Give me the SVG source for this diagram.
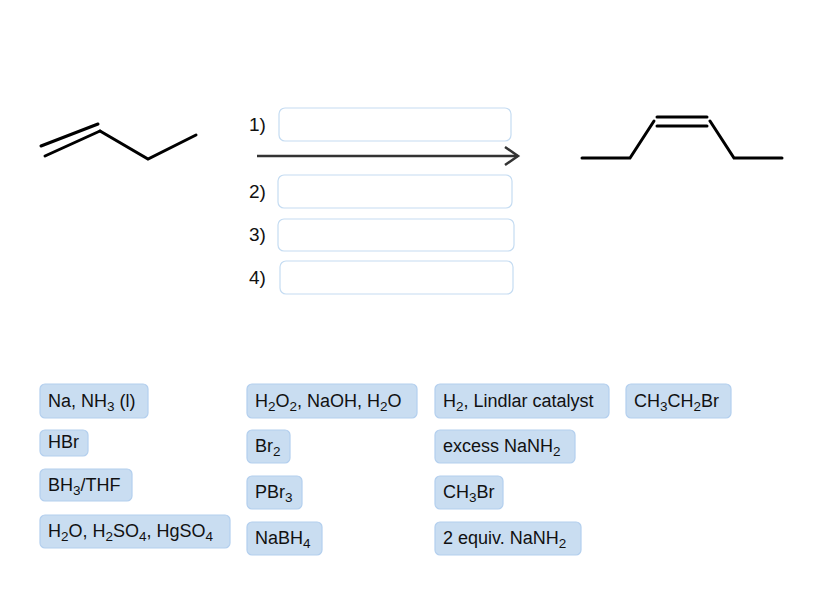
<svg xmlns="http://www.w3.org/2000/svg" width="826" height="598" viewBox="0 0 826 598">
<style>
.b{stroke:#000;stroke-width:3;fill:none;stroke-linecap:round}
.in{fill:#fff;stroke:#c5dcf2;stroke-width:1.2}
.r{fill:#c9ddf1;stroke:#b3cfee;stroke-width:1.2}
text{font-family:"Liberation Sans",Arial,sans-serif;font-size:18px;fill:#111}
.n{font-size:19px}
.s{font-size:13.5px}
</style>
<rect width="826" height="598" fill="#fff"/>
<g id="reactant">
<line class="b" x1="41" y1="146" x2="98" y2="124"/>
<line class="b" x1="45" y1="156" x2="100" y2="131"/>
<polyline class="b" points="100,131 148,159 196,135"/>
</g>
<g id="product">
<polyline class="b" points="582,158 630,158 654,121"/>
<line class="b" x1="657" y1="117" x2="707" y2="117"/>
<line class="b" x1="657" y1="126" x2="707" y2="126"/>
<polyline class="b" points="710,121 734,158 782,158"/>
</g>
<g id="connectors">
<line x1="257" y1="156" x2="518" y2="156" stroke="#333" stroke-width="2.5"/>
<polyline points="505,147 518,156 505,165" fill="none" stroke="#333" stroke-width="2.5"/>
</g>
<g id="slot1"><text class="n" x="249" y="131">1)</text><rect class="in" x="279" y="108" width="232" height="33" rx="6"/></g>
<g id="slot2"><text class="n" x="249" y="198">2)</text><rect class="in" x="278" y="175" width="234" height="33" rx="6"/></g>
<g id="slot3"><text class="n" x="249" y="241">3)</text><rect class="in" x="278" y="219" width="236" height="32" rx="6"/></g>
<g id="slot4"><text class="n" x="249" y="284">4)</text><rect class="in" x="280" y="261" width="233" height="33" rx="6"/></g>
<g id="r1"><rect class="r" x="40" y="384" width="108" height="34" rx="5"/><text x="48" y="407">Na, NH<tspan class="s" dy="4">3</tspan><tspan dy="-4"> (l)</tspan></text></g>
<g id="r2"><rect class="r" x="40" y="430" width="48" height="26" rx="5"/><text x="48" y="448">HBr</text></g>
<g id="r3"><rect class="r" x="40" y="469" width="92" height="32" rx="5"/><text x="48" y="491">BH<tspan class="s" dy="4">3</tspan><tspan dy="-4">/THF</tspan></text></g>
<g id="r4"><rect class="r" x="40" y="515" width="190" height="33" rx="5"/><text x="48" y="537">H<tspan class="s" dy="4">2</tspan><tspan dy="-4">O, H</tspan><tspan class="s" dy="4">2</tspan><tspan dy="-4">SO</tspan><tspan class="s" dy="4">4</tspan><tspan dy="-4">, HgSO</tspan><tspan class="s" dy="4">4</tspan></text></g>
<g id="r5"><rect class="r" x="247" y="384" width="170" height="34" rx="5"/><text x="255" y="407">H<tspan class="s" dy="4">2</tspan><tspan dy="-4">O</tspan><tspan class="s" dy="4">2</tspan><tspan dy="-4">, NaOH, H</tspan><tspan class="s" dy="4">2</tspan><tspan dy="-4">O</tspan></text></g>
<g id="r6"><rect class="r" x="247" y="430" width="43" height="33" rx="5"/><text x="255" y="452">Br<tspan class="s" dy="4">2</tspan></text></g>
<g id="r7"><rect class="r" x="247" y="476" width="55" height="33" rx="5"/><text x="255" y="498">PBr<tspan class="s" dy="4">3</tspan></text></g>
<g id="r8"><rect class="r" x="247" y="522" width="75" height="33" rx="5"/><text x="255" y="544">NaBH<tspan class="s" dy="4">4</tspan></text></g>
<g id="r9"><rect class="r" x="435" y="384" width="174" height="34" rx="5"/><text x="443" y="407">H<tspan class="s" dy="4">2</tspan><tspan dy="-4">, Lindlar catalyst</tspan></text></g>
<g id="r10"><rect class="r" x="626" y="384" width="105" height="34" rx="5"/><text x="634" y="407">CH<tspan class="s" dy="4">3</tspan><tspan dy="-4">CH</tspan><tspan class="s" dy="4">2</tspan><tspan dy="-4">Br</tspan></text></g>
<g id="r11"><rect class="r" x="435" y="430" width="140" height="33" rx="5"/><text x="443" y="452">excess NaNH<tspan class="s" dy="4">2</tspan></text></g>
<g id="r12"><rect class="r" x="435" y="476" width="68" height="33" rx="5"/><text x="443" y="498">CH<tspan class="s" dy="4">3</tspan><tspan dy="-4">Br</tspan></text></g>
<g id="r13"><rect class="r" x="435" y="522" width="146" height="33" rx="5"/><text x="443" y="544">2 equiv. NaNH<tspan class="s" dy="4">2</tspan></text></g>
</svg>
